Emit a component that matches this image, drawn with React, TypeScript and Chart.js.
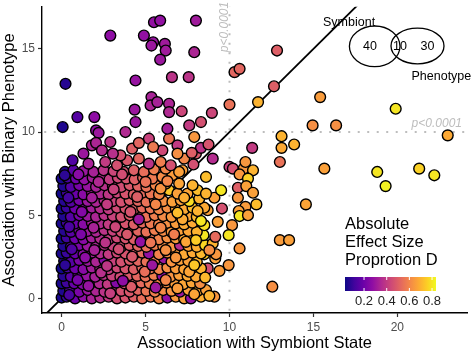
import React, { useEffect, useRef } from 'react';
import { Chart, registerables } from 'chart.js';
Chart.register(...registerables);

const FONT = '"Liberation Sans", Arial, Helvetica, sans-serif';

// axis setup
const xTicks = [0, 5, 10, 15, 20];
const yTicks = [0, 5, 10, 15];
const xRange = [-1.17, 24.16];
const yRange = [-0.88, 17.53];
const thresholdX = 10;
const thresholdY = 10;
const identityEnds = [-2, 26];
const xTitle = 'Association with Symbiont State';
const yTitle = 'Association with Binary Phenotype';
const pLabel = 'p<0.0001';

// venn inset
const vennCounts = ['40', '10', '30'];
const vennLabels = ['Symbiont', 'Phenotype'];

// colour legend
const legendTitle = ['Absolute', 'Effect Size', 'Proprotion D'];
const legendTicks = [0.2, 0.4, 0.6, 0.8];
const effectRange = [0.032, 0.835];

// points: [symbiont association, phenotype association, effect size]
const coreLow: number[][] = [
  [0,0.05,.05],[0.3,0.1,.1],[0.8,0,.2],[1.3,0.1,.27],[1.8,0,.33],[2.3,0.05,.36],[2.8,0.1,.4],[3.3,0,.45],[3.8,0.05,.47],[4.3,0.1,.5],[4.8,0,.54],[5.3,0.1,.56],[5.8,0,.6],[6.3,0.05,.27],[6.8,0.1,.64],[7.3,0,.66],[7.7,0,.28],[8.3,0.1,.69],[9.1,0.1,.64],
  [0.1,0.45,.06],[0.5,0.5,.15],[1.05,0.4,.23],[1.55,0.5,.3],[2.05,0.45,.34],[2.55,0.4,.38],[3.05,0.5,.43],[3.55,0.45,.46],[4.05,0.4,.48],[4.55,0.5,.52],[5.05,0.45,.56],[5.55,0.4,.58],[6.05,0.5,.61],[6.55,0.45,.63],[7.05,0.4,.3],[7.55,0.5,.66],[8.1,0.45,.69],[8.6,0.5,.66],
  [0,0.9,.05],[0.3,0.95,.11],[0.75,0.9,.19],[1.25,0.85,.25],[1.75,0.95,.31],[2.25,0.9,.35],[2.75,0.85,.4],[3.25,0.95,.25],[3.75,0.9,.47],[4.25,0.85,.5],[4.75,0.95,.53],[5.25,0.9,.57],[5.75,0.85,.6],[6.25,0.95,.62],[6.75,0.9,.65],[7.25,0.85,.67],[7.75,0.95,.67],[8.25,0.9,.62],
  [0.1,1.35,.07],[0.55,1.3,.16],[1.0,1.4,.22],[1.5,1.35,.29],[2.0,1.3,.33],[2.5,1.4,.38],[3.0,1.35,.42],[3.5,1.3,.45],[4.0,1.4,.49],[4.5,1.35,.52],[5.0,1.3,.55],[5.5,1.4,.58],[6.0,1.35,.27],[6.5,1.3,.63],[7.0,1.4,.66],[7.5,1.35,.68],[8.0,1.3,.68],[8.7,1.8,.45],[9.4,1.65,.65],
  [0,1.8,.04],[0.35,1.85,.12],[0.8,1.8,.2],[1.3,1.75,.26],[1.8,1.85,.32],[2.3,1.8,.36],[2.8,1.75,.4],[3.3,1.85,.44],[3.8,1.8,.47],[4.3,1.75,.5],[4.8,1.85,.53],[5.3,1.8,.56],[5.8,1.75,.59],[6.3,1.85,.62],[6.8,1.8,.65],[7.3,1.75,.67],[7.8,1.85,.69],[8.3,1.8,.7],
  [0.15,2.25,.07],[0.55,2.2,.15],[1.05,2.3,.23],[1.55,2.25,.3],[2.05,2.2,.34],[2.55,2.3,.26],[3.05,2.25,.42],[3.55,2.2,.46],[4.05,2.3,.49],[4.55,2.25,.52],[5.05,2.2,.55],[5.55,2.3,.58],[6.1,2.4,.3],[6.55,2.2,.63],[7.05,2.3,.66],[7.55,2.25,.66],[8.05,2.2,.7],[8.5,2.65,.74],[9.15,2.4,.66],
];

const coreMid: number[][] = [
  [0,2.7,.05],[0.3,2.75,.1],[0.8,2.7,.19],[1.3,2.65,.26],[1.8,2.75,.32],[2.3,2.7,.36],[2.8,2.65,.4],[3.3,2.75,.44],[3.8,2.7,.47],[4.3,2.65,.5],[4.8,2.75,.53],[5.2,2.7,.28],[5.8,2.65,.59],[6.3,2.75,.62],[6.8,2.7,.65],[7.3,2.65,.68],[7.8,2.75,.68],[8.3,2.7,.71],[9.2,2.65,.64],
  [0.1,3.15,.06],[0.55,3.1,.15],[1.05,3.2,.23],[1.55,3.15,.3],[2.05,3.1,.34],[2.55,3.2,.38],[3.05,3.15,.42],[3.55,3.1,.46],[4.05,3.2,.49],[4.55,3.15,.52],[5.05,3.1,.55],[5.55,3.2,.58],[6.05,3.15,.61],[6.55,3.1,.63],[7.05,3.2,.36],[7.55,3.15,.66],[8.05,3.1,.69],[8.55,3.2,.77],[9.0,3.3,.7],
  [0,3.6,.04],[0.3,3.65,.11],[0.8,3.6,.2],[1.3,3.55,.26],[1.8,3.65,.32],[2.3,3.6,.36],[2.8,3.55,.4],[3.3,3.65,.44],[3.8,3.6,.47],[4.3,3.55,.5],[4.8,3.65,.53],[5.3,3.6,.56],[5.8,3.55,.59],[6.3,3.65,.62],[6.8,3.6,.65],[7.3,3.55,.68],[7.8,3.65,.69],[8.45,3.8,.8],[9.15,3.7,.53],
  [0.15,4.05,.07],[0.55,4.0,.16],[1.05,4.1,.23],[1.55,4.05,.3],[2.05,4.0,.34],[2.55,4.1,.38],[3.05,4.05,.42],[3.55,4.0,.46],[4.05,4.1,.49],[4.55,4.05,.52],[5.05,4.0,.55],[5.55,4.1,.58],[6.05,4.05,.61],[6.55,4.0,.64],[7.05,4.1,.66],[7.55,4.05,.67],[8.05,4.0,.7],[8.5,4.4,.79],[9.3,4.6,.66],
  [0,4.5,.05],[0.3,4.55,.11],[0.8,4.5,.19],[1.3,4.45,.26],[1.8,4.55,.32],[2.3,4.5,.36],[2.8,4.45,.4],[3.3,4.55,.44],[3.8,4.5,.47],[4.3,4.45,.5],[4.8,4.55,.53],[5.3,4.5,.57],[5.8,4.45,.59],[6.3,4.55,.62],[6.8,4.5,.65],[7.3,4.45,.68],[7.8,4.55,.68],[8.7,5.3,.66],
  [0.1,4.95,.06],[0.55,4.9,.15],[1.05,5.0,.22],[1.55,4.95,.3],[2.05,4.9,.34],[2.55,5.0,.38],[3.05,4.95,.42],[3.55,4.9,.46],[4.05,5.0,.49],[4.55,4.95,.52],[5.05,4.9,.55],[5.55,5.0,.58],[6.05,4.95,.61],[6.55,4.9,.64],[7.05,5.0,.68],[7.55,4.95,.67],[8.05,4.9,.71],[8.5,5.45,.68],
];

const coreHigh: number[][] = [
  [0,5.4,.05],[0.3,5.45,.1],[0.8,5.4,.2],[1.3,5.35,.26],[1.8,5.45,.32],[2.3,5.4,.36],[2.8,5.35,.4],[3.3,5.45,.44],[3.8,5.4,.47],[4.3,5.35,.5],[4.8,5.45,.53],[5.3,5.4,.56],[5.8,5.35,.6],[6.3,5.45,.62],[6.8,5.4,.66],[7.3,5.35,.68],[7.8,5.45,.72],[9.1,6.05,.66],[9.55,5.4,.46],
  [0.15,5.85,.07],[0.55,5.8,.15],[1.05,5.9,.22],[1.55,5.85,.3],[2.05,5.8,.34],[2.55,5.9,.37],[3.05,5.85,.42],[3.55,5.8,.46],[4.05,5.9,.49],[4.55,5.85,.52],[5.05,5.8,.55],[5.55,5.9,.58],[6.05,5.85,.62],[6.6,5.8,.66],[7.1,5.9,.66],[7.6,5.85,.78],[8.2,6.0,.7],
  [0,6.3,.04],[0.3,6.35,.11],[0.8,6.3,.19],[1.3,6.25,.26],[1.8,6.35,.32],[2.3,6.3,.35],[2.8,6.25,.39],[3.3,6.35,.43],[3.8,6.3,.47],[4.3,6.25,.5],[4.8,6.35,.53],[5.3,6.3,.56],[5.8,6.25,.6],[6.4,6.5,.74],[6.9,6.3,.66],[7.5,6.3,.67],[8.1,6.5,.72],[9.5,6.5,.8],
  [0.1,6.75,.06],[0.55,6.7,.15],[1.05,6.8,.22],[1.55,6.75,.29],[2.05,6.7,.33],[2.55,6.8,.37],[3.05,6.75,.41],[3.55,6.7,.45],[4.05,6.8,.48],[4.55,6.75,.51],[5.05,6.7,.55],[5.6,6.8,.6],[6.2,6.9,.66],[7.0,6.9,.67],[7.8,6.8,.7],
  [0,7.2,.05],[0.35,7.25,.12],[0.85,7.2,.2],[1.35,7.15,.28],[1.85,7.25,.32],[2.35,7.2,.36],[2.85,7.15,.4],[3.35,7.25,.44],[3.85,7.2,.47],[4.35,7.15,.5],[4.85,7.25,.53],[5.4,7.2,.57],[6.0,7.3,.61],[6.6,7.4,.65],[7.2,7.7,.66],[8.6,7.3,.72],
  [0.2,7.6,.07],[0.7,7.7,.16],[1.3,7.65,.3],[1.9,7.6,.33],[2.5,7.7,.38],[3.1,7.65,.43],[3.7,7.6,.46],[4.3,7.7,.5],[4.9,7.6,.54],[5.5,7.75,.58],[6.2,7.8,.6],[7.0,7.6,.66],
  [0.65,8.3,.14],[1.6,8.1,.33],[2.6,8.2,.4],[3.3,8.0,.46],[3.9,8.3,.48],[4.6,8.4,.52],[5.2,8.1,.38],[5.9,8.2,.58],[6.5,8.0,.46],[7.85,8.05,.46],
];

// irregular points scattered over the dense core
const coreScatter: number[][] = [
  [0.45,0.2,.13],[1.6,0.75,.29],[2.9,0.3,.41],[4.15,0.7,.49],[5.6,0.65,.3],[6.9,0.6,.65],[7.9,0.25,.67],[8.8,0.15,.7],
  [0.95,1.1,.22],[2.35,1.55,.37],[3.65,1.05,.27],[4.95,1.6,.54],[6.2,1.1,.6],[7.6,1.6,.67],[8.55,1.25,.71],
  [0.2,2.0,.08],[1.4,2.45,.27],[2.7,1.95,.39],[4.2,2.5,.48],[5.4,2.0,.3],[6.8,2.45,.64],[7.9,2.0,.74],
  [0.6,2.95,.14],[1.95,2.9,.33],[3.4,2.95,.45],[4.7,3.4,.28],[6.2,2.9,.62],[7.4,3.4,.67],[8.8,2.9,.62],
  [1.15,3.85,.23],[2.6,3.35,.38],[3.9,3.85,.48],[5.3,3.35,.56],[6.7,3.85,.58],[8.0,3.5,.75],
  [0.45,4.3,.13],[1.9,4.25,.33],[3.2,4.3,.43],[4.6,4.75,.3],[5.9,4.25,.6],[7.2,4.75,.68],[8.3,4.65,.8],
  [1.2,5.2,.25],[2.7,5.65,.4],[4.1,5.2,.47],[5.6,5.65,.6],[6.9,5.15,.72],[8.1,5.25,.7],
  [0.4,6.05,.12],[1.8,6.05,.32],[3.1,6.55,.42],[4.5,6.1,.5],[5.9,6.6,.63],[7.3,6.05,.69],[8.6,6.3,.7],
  [1.0,7.45,.26],[2.2,7.0,.35],[3.6,7.45,.45],[5.0,7.0,.55],[6.3,7.05,.6],
  [3.5,8.6,.46],[4.2,9.0,.5],[6.0,8.9,.44],[7.3,8.4,.6],[8.0,8.7,.48],[1.3,8.7,.3],[2.9,9.4,.38],[6.4,9.6,.56],[7.6,10.4,.4],[3.8,10.0,.35],
];

const upperPts: number[][] = [
  [5.5,16.6,.28],[5.87,16.7,.28],[8.0,16.7,.31],[2.9,15.8,.27],[4.9,15.8,.28],[5.45,15.4,.29],[5.35,15.2,.3],[6.15,15.3,.31],[6.2,14.9,.31],[7.9,14.8,.34],[5.87,14.35,.3],
  [0.23,12.9,.07],[4.4,13.1,.29],[6.57,13.3,.38],[7.57,13.3,.38],[5.35,12.1,.33],[5.3,11.6,.34],[5.7,11.8,.33],[6.4,11.7,.34],[6.4,11.2,.35],[4.35,11.35,.3],
  [7.15,11.25,.43],[8.95,11.15,.43],[8.3,10.6,.46],[0.94,10.9,.15],[1.95,10.9,.27],[0.06,10.3,.06],[4.4,10.6,.3],[6.3,10.2,.32],[2.05,10.1,.27],[2.2,9.95,.3],
  [1.8,9.2,.34],[2.05,9.35,.34],[2.4,8.9,.36],[3.05,8.7,.37],[5.2,9.6,.42],[4.6,9.35,.52],[5.45,9.1,.57],[7.9,9.7,.64],[8.3,9.05,.38],[8.75,9.25,.47],
  [9.0,8.4,.36],[6.9,9.2,.4],[6.9,8.7,.62],[7.75,8.75,.5],[10.0,7.9,.42],[0.18,7.4,.08],
];

const rightPts: number[][] = [
  [10.3,13.6,.52],[10.6,13.8,.52],[12.83,14.9,.5],[12.65,12.75,.5],[10.0,11.65,.55],[11.7,11.8,.7],[15.4,12.1,.65],[19.9,11.4,.8],[14.95,10.4,.62],[16.35,10.4,.62],
  [23.0,9.8,.68],[13.1,9.75,.7],[13.1,9.05,.68],[13.85,9.25,.7],[11.35,9.05,.4],[13.0,8.2,.55],[15.65,7.8,.66],[18.8,7.6,.8],[21.3,7.8,.76],[22.2,7.4,.8],
  [19.3,6.75,.82],[14.55,5.65,.67],[13.0,3.5,.65],[13.55,3.5,.66],[12.55,0.7,.62],
  [10.2,7.8,.46],[10.85,7.8,.64],[10.95,8.2,.64],[11.4,7.7,.7],[10.6,7.45,.64],[11.1,7.2,.76],[10.5,6.65,.5],[11.0,6.75,.66],[11.4,6.35,.66],[10.5,6.05,.64],
  [10.95,5.5,.65],[11.6,5.65,.72],[10.55,5.25,.66],[10.6,4.95,.8],[11.1,5.0,.66],[10.15,4.4,.64],[9.95,3.8,.8],[10.6,3.0,.64],[9.95,2.0,.64],
];

const PLASMA = ['#0d0887', '#41049d', '#6a00a8', '#8f0da4', '#b12a90', '#cc4778', '#e16462', '#f2844b', '#fca636', '#fcce25', '#f0f921'];

function hexRgb(h: string) {
  return [parseInt(h.slice(1, 3), 16), parseInt(h.slice(3, 5), 16), parseInt(h.slice(5, 7), 16)];
}

function plasma(effect: number) {
  let t = (effect - effectRange[0]) / (effectRange[1] - effectRange[0]);
  t = Math.max(0, Math.min(1, t));
  const pos = t * (PLASMA.length - 1);
  const i = Math.min(PLASMA.length - 2, Math.floor(pos));
  const f = pos - i;
  const a = hexRgb(PLASMA[i]);
  const b = hexRgb(PLASMA[i + 1]);
  const c = a.map((v, k) => Math.round(v + (b[k] - v) * f));
  return `rgb(${c[0]},${c[1]},${c[2]})`;
}

const decorPlugin = {
  id: 'decor',
  afterDraw(chart: any) {
    const ctx = chart.ctx as CanvasRenderingContext2D;
    const xs = chart.scales.x;
    const ys = chart.scales.y;
    ctx.save();
    // p-value labels
    ctx.fillStyle = '#bdbdbd';
    ctx.font = `italic 12px ${FONT}`;
    ctx.textAlign = 'right';
    ctx.textBaseline = 'alphabetic';
    ctx.fillText(pLabel, 462, ys.getPixelForValue(thresholdY) - 5);
    ctx.save();
    ctx.translate(xs.getPixelForValue(thresholdX) - 1.5, 27);
    ctx.rotate(-Math.PI / 2);
    ctx.textAlign = 'center';
    ctx.fillText(pLabel, 0, 0);
    ctx.restore();

    // venn inset
    ctx.strokeStyle = '#000';
    ctx.lineWidth = 1.3;
    ctx.beginPath();
    ctx.ellipse(374.7, 46.3, 25.3, 20.3, 0, 0, Math.PI * 2);
    ctx.stroke();
    ctx.beginPath();
    ctx.ellipse(417.5, 46, 26.5, 17.8, 0, 0, Math.PI * 2);
    ctx.stroke();
    ctx.fillStyle = '#000';
    ctx.font = `12.5px ${FONT}`;
    ctx.textAlign = 'center';
    ctx.textBaseline = 'middle';
    ctx.fillText(vennCounts[0], 370, 47);
    ctx.fillText(vennCounts[1], 400, 47);
    ctx.fillText(vennCounts[2], 427.5, 47);
    ctx.textAlign = 'left';
    ctx.textBaseline = 'alphabetic';
    ctx.fillText(vennLabels[0], 323, 26);
    ctx.fillText(vennLabels[1], 411.5, 80);

    // colour legend
    ctx.font = `16.5px ${FONT}`;
    legendTitle.forEach((line, i) => ctx.fillText(line, 345, 229 + i * 18));
    const bx = 345, by = 277, bw = 91, bh = 14;
    const grad = ctx.createLinearGradient(bx, 0, bx + bw, 0);
    PLASMA.forEach((c, i) => grad.addColorStop(i / (PLASMA.length - 1), c));
    ctx.fillStyle = grad;
    ctx.fillRect(bx, by, bw, bh);
    ctx.strokeStyle = '#fff';
    ctx.lineWidth = 1;
    ctx.fillStyle = '#222';
    ctx.font = `13px ${FONT}`;
    ctx.textAlign = 'center';
    legendTicks.forEach((v) => {
      const px = bx + ((v - effectRange[0]) / (effectRange[1] - effectRange[0])) * bw;
      ctx.beginPath();
      ctx.moveTo(px, by);
      ctx.lineTo(px, by + 3);
      ctx.moveTo(px, by + bh - 3);
      ctx.lineTo(px, by + bh);
      ctx.stroke();
      ctx.fillText(String(v), px, 305);
    });
    ctx.restore();
  },
};

export default function App() {
  const ref = useRef<HTMLCanvasElement>(null);
  useEffect(() => {
    document.body.style.margin = '0';
    const pts = [...coreLow, ...coreMid, ...coreHigh, ...coreScatter, ...upperPts, ...rightPts];
    const chart = new Chart(ref.current as HTMLCanvasElement, {
      type: 'scatter',
      data: {
        datasets: [
          {
            type: 'scatter',
            data: pts.map((p) => ({ x: p[0], y: p[1] })),
            backgroundColor: pts.map((p) => plasma(p[2])),
            borderColor: '#000',
            borderWidth: 1.4,
            pointRadius: 5.4,
            pointHoverRadius: 5.4,
            order: 1,
          } as any,
          {
            type: 'line',
            data: identityEnds.map((v) => ({ x: v, y: v })),
            borderColor: '#000',
            borderWidth: 1.8,
            pointRadius: 0,
            fill: false,
            order: 3,
          } as any,
          {
            type: 'line',
            data: [{ x: thresholdX, y: yRange[0] - 1 }, { x: thresholdX, y: yRange[1] + 1 }],
            borderColor: '#bdbdbd',
            borderWidth: 2,
            borderDash: [2, 7.5],
            pointRadius: 0,
            fill: false,
            order: 4,
          } as any,
          {
            type: 'line',
            data: [{ x: xRange[0] - 1, y: thresholdY }, { x: xRange[1] + 1, y: thresholdY }],
            borderColor: '#bdbdbd',
            borderWidth: 2,
            borderDash: [2, 7.5],
            pointRadius: 0,
            fill: false,
            order: 4,
          } as any,
        ],
      },
      options: {
        responsive: false,
        animation: false,
        devicePixelRatio: 1,
        events: [],
        layout: { padding: 0 },
        plugins: { legend: { display: false }, tooltip: { enabled: false } },
        scales: {
          x: {
            type: 'linear',
            min: xRange[0],
            max: xRange[1],
            afterBuildTicks: (s: any) => { s.ticks = xTicks.map((v) => ({ value: v })); },
            afterFit: (s: any) => { s.height = 40; s.paddingLeft = 0; s.paddingRight = 0; },
            grid: { display: true, drawOnChartArea: false, drawTicks: true, tickLength: 4, tickColor: '#333', tickWidth: 1.2 },
            border: { display: true, color: '#000', width: 1.4 },
            ticks: { color: '#4d4d4d', font: { family: FONT, size: 12 }, padding: 3, maxRotation: 0, autoSkip: false },
            title: { display: true, text: xTitle, color: '#000', font: { family: FONT, size: 16.5, lineHeight: 1.2 }, padding: { top: 0, bottom: 0 } },
          },
          y: {
            type: 'linear',
            min: yRange[0],
            max: yRange[1],
            afterBuildTicks: (s: any) => { s.ticks = yTicks.map((v) => ({ value: v })); },
            afterFit: (s: any) => { s.width = 42; s.paddingTop = 0; s.paddingBottom = 0; },
            grid: { display: true, drawOnChartArea: false, drawTicks: true, tickLength: 4, tickColor: '#333', tickWidth: 1.2 },
            border: { display: true, color: '#000', width: 1.4 },
            ticks: { color: '#4d4d4d', font: { family: FONT, size: 12 }, padding: 3, autoSkip: false },
            title: { display: true, text: yTitle, color: '#000', font: { family: FONT, size: 16.5, lineHeight: 1.1 }, padding: { top: 0, bottom: 0 } },
          },
        },
      },
      plugins: [decorPlugin],
    } as any);
    return () => chart.destroy();
  }, []);
  return (
    <div style={{ position: 'absolute', left: 0, top: 0, width: 474, height: 353, background: '#fff' }}>
      <canvas ref={ref} width={474} height={353} style={{ display: 'block', width: 474, height: 353 }} />
    </div>
  );
}
